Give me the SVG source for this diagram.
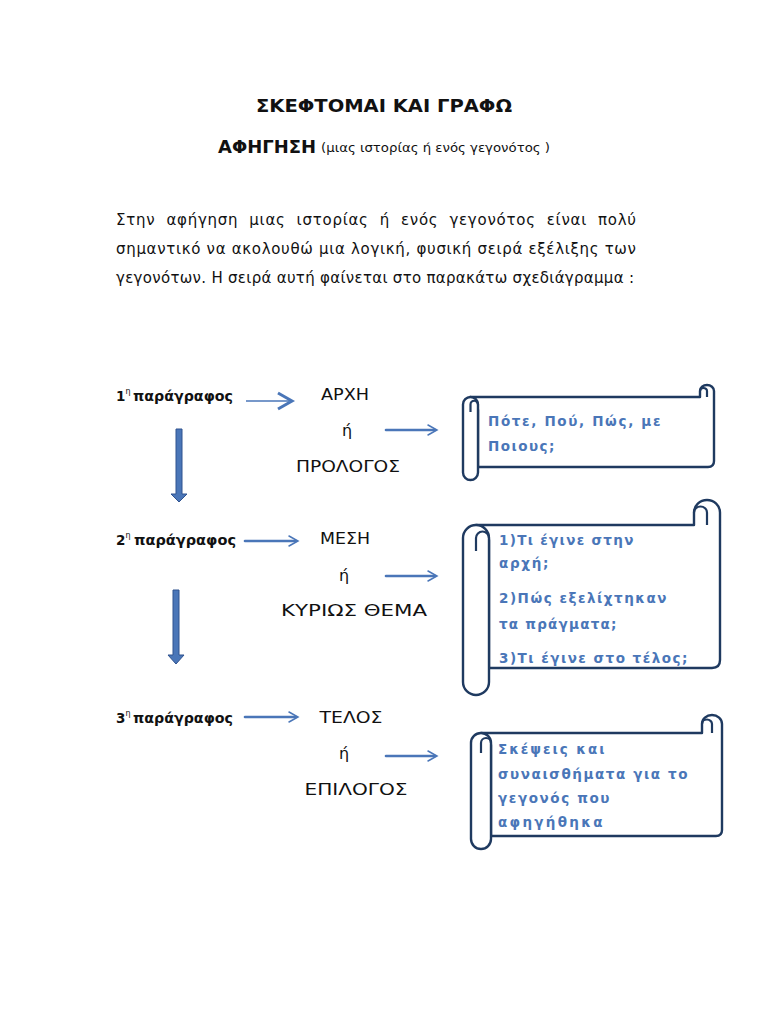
<svg xmlns="http://www.w3.org/2000/svg" width="768" height="1024" viewBox="0 0 768 1024">
<style>
.t{font-family:"DejaVu Sans","Liberation Sans",sans-serif;fill:#111}
.h{font-weight:bold}
.lab{font-family:"DejaVu Sans","Liberation Sans",sans-serif;font-size:13.5px;font-weight:bold;fill:#111}
.sup{font-family:"DejaVu Sans","Liberation Sans",sans-serif;font-size:8px;fill:#111}
.mid{font-family:"DejaVu Sans","Liberation Sans",sans-serif;font-size:16px;fill:#111}
.sc{font-family:"DejaVu Sans","Liberation Sans",sans-serif;font-size:13.5px;font-weight:bold;fill:#4a76b8;letter-spacing:1.6px}
.scroll{fill:#fff;stroke:#1f3a60;stroke-width:2.4;stroke-linejoin:round}
.curl{fill:none;stroke:#1f3a60;stroke-width:2.2}
.down{fill:#4a76b8;stroke:#2f528f;stroke-width:1}
.shadow{stroke:#6e7888;stroke-width:8;fill:none;stroke-linecap:round}
.ar{stroke:#4a76b8;stroke-width:2.6;fill:none;stroke-linecap:round}
.hd{stroke:#4a76b8;stroke-width:1.5;fill:none;stroke-linecap:round}
</style>
<defs>
<filter id="blur" x="-20%" y="-200%" width="140%" height="500%"><feGaussianBlur stdDeviation="1.3"/></filter>
</defs>
<rect width="768" height="1024" fill="#fff"/>

<g id="title">
<text class="t h" x="384" y="112" font-size="17" text-anchor="middle" textLength="256" lengthAdjust="spacingAndGlyphs">ΣΚΕΦΤΟΜΑΙ ΚΑΙ ΓΡΑΦΩ</text>
<text class="t h" x="218" y="153" font-size="17" textLength="98" lengthAdjust="spacingAndGlyphs">ΑΦΗΓΗΣΗ</text>
<text class="t" x="321" y="152" font-size="13" fill="#333" textLength="229" lengthAdjust="spacingAndGlyphs">(μιας ιστορίας ή ενός γεγονότος )</text>
</g>

<g id="intro" class="t" font-size="15">
<text x="116" y="225" word-spacing="5.5" textLength="520" lengthAdjust="spacing">Στην αφήγηση μιας ιστορίας ή ενός γεγονότος είναι πολύ</text>
<text x="116" y="254" textLength="520" lengthAdjust="spacing">σημαντικό να ακολουθώ μια λογική, φυσική σειρά εξέλιξης των</text>
<text x="116" y="283" textLength="518" lengthAdjust="spacing">γεγονότων. Η σειρά αυτή φαίνεται στο παρακάτω σχεδιάγραμμα :</text>
</g>

<g id="connectors">
<line x1="246" y1="401" x2="289" y2="401" stroke="#4a76b8" stroke-width="1.3"/>
<path d="M278,393 L292,401 L278,409" fill="none" stroke="#4a76b8" stroke-width="3" stroke-linejoin="miter"/>
<g>
<line class="shadow" filter="url(#blur)" x1="386" y1="431" x2="435" y2="431"/>
<line class="ar" x1="386" y1="430" x2="435" y2="430"/>
<path class="hd" d="M428,425 L437,430 L428,435"/>
</g>
<g>
<line class="shadow" filter="url(#blur)" x1="245" y1="542" x2="296" y2="542"/>
<line class="ar" x1="245" y1="541" x2="296" y2="541"/>
<path class="hd" d="M289,536 L298,541 L289,546"/>
</g>
<g>
<line class="shadow" filter="url(#blur)" x1="386" y1="577" x2="435" y2="577"/>
<line class="ar" x1="386" y1="576" x2="435" y2="576"/>
<path class="hd" d="M428,571 L437,576 L428,581"/>
</g>
<g>
<line class="shadow" filter="url(#blur)" x1="245" y1="718" x2="296" y2="718"/>
<line class="ar" x1="245" y1="717" x2="296" y2="717"/>
<path class="hd" d="M289,712 L298,717 L289,722"/>
</g>
<g>
<line class="shadow" filter="url(#blur)" x1="386" y1="757" x2="435" y2="757"/>
<line class="ar" x1="386" y1="756" x2="435" y2="756"/>
<path class="hd" d="M428,751 L437,756 L428,761"/>
</g>
<path class="down" d="M176,429 H182 V494 H187 L179,502 L171,494 H176 Z"/>
<path class="down" d="M173,590 H179 V655 H184 L176,664 L168,655 H173 Z"/>
</g>

<g id="p1">
<text class="lab" x="116" y="401">1</text>
<text class="sup" x="125.5" y="394">η</text>
<text class="lab" x="133" y="401" textLength="100" lengthAdjust="spacingAndGlyphs">παράγραφος</text>
</g>
<g id="p2">
<text class="lab" x="116" y="545">2</text>
<text class="sup" x="125.5" y="538">η</text>
<text class="lab" x="134" y="545" textLength="102" lengthAdjust="spacingAndGlyphs">παράγραφος</text>
</g>
<g id="p3">
<text class="lab" x="116" y="723">3</text>
<text class="sup" x="125.5" y="716">η</text>
<text class="lab" x="133" y="723" textLength="100" lengthAdjust="spacingAndGlyphs">παράγραφος</text>
</g>

<g id="arxi" class="mid" text-anchor="middle">
<text x="345" y="400" textLength="48" lengthAdjust="spacingAndGlyphs">ΑΡΧΗ</text>
<text x="347" y="436">ή</text>
<text x="348" y="472" textLength="104" lengthAdjust="spacingAndGlyphs">ΠΡΟΛΟΓΟΣ</text>
</g>
<g id="mesi" class="mid" text-anchor="middle">
<text x="345" y="544" textLength="50" lengthAdjust="spacingAndGlyphs">ΜΕΣΗ</text>
<text x="344" y="581">ή</text>
<text x="354" y="616" textLength="146" lengthAdjust="spacingAndGlyphs">ΚΥΡΙΩΣ ΘΕΜΑ</text>
</g>
<g id="telos" class="mid" text-anchor="middle">
<text x="351" y="723" textLength="63" lengthAdjust="spacingAndGlyphs">ΤΕΛΟΣ</text>
<text x="344" y="759">ή</text>
<text x="356" y="795" textLength="103" lengthAdjust="spacingAndGlyphs">ΕΠΙΛΟΓΟΣ</text>
</g>

<g id="scroll1">
<path class="scroll" d="M470,397 H700 V391 A7 6 0 0 1 714,391 V461 Q714,467 708,467 H478 V410 Z"/>
<path class="curl" d="M707,397 V391 A3.5 3 0 0 0 700,391"/>
<path class="scroll" d="M463,404.5 V472.5 A7.5 7.5 0 0 0 478,472.5 V404.5 A7.5 7.5 0 0 0 463,404.5 Z"/>
<path class="curl" d="M470.5,412 V404.5 A3.75 3.75 0 0 1 478,404.5"/>
<text class="sc" x="488" y="426" textLength="174" lengthAdjust="spacing">Πότε, Πού, Πώς, με</text>
<text class="sc" x="488" y="451" textLength="68" lengthAdjust="spacing">Ποιους;</text>
</g>

<g id="scroll2">
<path class="scroll" d="M476,525 H694 V512.5 A13 12.5 0 0 1 720,512.5 V660 Q720,668 712,668 H489 V540 Z"/>
<path class="curl" d="M707,525 V512.5 A6.5 6 0 0 0 694,512.5"/>
<path class="scroll" d="M463,538 V682 A13 13 0 0 0 489,682 V538 A13 13 0 0 0 463,538 Z"/>
<path class="curl" d="M476,551 V538 A6.5 6.5 0 0 1 489,538"/>
<text class="sc" x="499" y="545" textLength="136" lengthAdjust="spacing">1)Τι έγινε στην</text>
<text class="sc" x="499" y="568" textLength="51" lengthAdjust="spacing">αρχή;</text>
<text class="sc" x="499" y="603" textLength="169" lengthAdjust="spacing">2)Πώς εξελίχτηκαν</text>
<text class="sc" x="499" y="629" textLength="119" lengthAdjust="spacing">τα πράγματα;</text>
<text class="sc" x="499" y="663" textLength="190" lengthAdjust="spacing">3)Τι έγινε στο τέλος;</text>
</g>

<g id="scroll3">
<path class="scroll" d="M481,733 H702 V724 A10 9 0 0 1 722,724 V830 Q722,836 716,836 H491 V745 Z"/>
<path class="curl" d="M712,733 V724 A5 4.5 0 0 0 702,724"/>
<path class="scroll" d="M471,743 V839 A10 10 0 0 0 491,839 V743 A10 10 0 0 0 471,743 Z"/>
<path class="curl" d="M481,753 V743 A5 5 0 0 1 491,743"/>
<text class="sc" x="498" y="754" textLength="108" lengthAdjust="spacing">Σκέψεις και</text>
<text class="sc" x="498" y="779" textLength="191" lengthAdjust="spacing">συναισθήματα για το</text>
<text class="sc" x="498" y="803" textLength="113" lengthAdjust="spacing">γεγονός που</text>
<text class="sc" x="498" y="827" textLength="106" lengthAdjust="spacing">αφηγήθηκα</text>
</g>
</svg>
